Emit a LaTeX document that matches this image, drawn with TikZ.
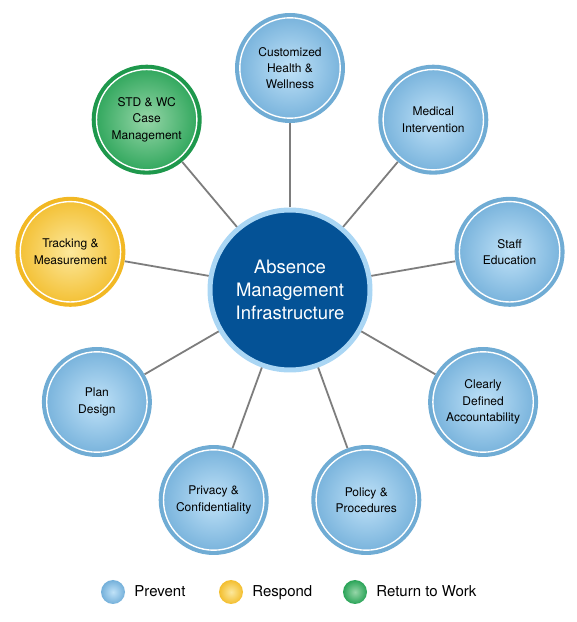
\documentclass[tikz,border=0pt]{standalone}
\usepackage{fontspec}
\setmainfont{TeX Gyre Heros}
\usetikzlibrary{positioning}

\definecolor{ringblue}{RGB}{112,172,212}
\definecolor{lightblue}{RGB}{192,226,248}
\definecolor{edgeblue}{RGB}{116,176,218}
\definecolor{ringgreen}{RGB}{30,152,76}
\definecolor{lightgreen}{RGB}{150,214,168}
\definecolor{edgegreen}{RGB}{42,164,88}
\definecolor{ringyellow}{RGB}{242,184,36}
\definecolor{lightyellow}{RGB}{252,232,156}
\definecolor{edgeyellow}{RGB}{243,190,46}
\definecolor{hubblue}{RGB}{4,82,150}
\definecolor{hubring}{RGB}{170,214,244}
\definecolor{spoke}{RGB}{125,125,125}

\tikzset{
  bubble/.style n args={3}{circle, minimum size=110pt, inner sep=0pt, fill=#1,
    align=center, font=\fontsize{12}{16.3}\selectfont,
    path picture={
      \shade[inner color=#2, outer color=#3] (path picture bounding box.center) circle (49.6pt);
      \draw[white, line width=1.4pt] (path picture bounding box.center) circle (50.2pt);
    }},
  prevent/.style={bubble={ringblue}{lightblue}{edgeblue}},
  respond/.style={bubble={ringyellow}{lightyellow}{edgeyellow}},
  backtowork/.style={bubble={ringgreen}{lightgreen}{edgegreen}},
  hub/.style={circle, minimum size=160pt, inner sep=0pt, fill=hubblue, draw=hubring,
    line width=5pt, text=white, align=center, font=\fontsize{18.5}{23}\selectfont},
  spokeline/.style={spoke, line width=1.8pt},
  legenddot/.style={circle, minimum size=24pt, inner sep=0pt},
  legendtext/.style={font=\fontsize{15}{18}\selectfont, inner sep=0pt,
    text height=11pt, text depth=3pt},
}

\begin{document}
\begin{tikzpicture}[x=1pt, y=1pt]

  \useasboundingbox (0,0) rectangle (577,622);

  \node[hub] at (290, 332) (infra) {Absence\\Management\\Infrastructure};

  \node[prevent] at (290, 554)      (health)   {Customized\\Health \&\\Wellness};
  \node[prevent] at (433.3, 502.3)  (medical)  {Medical\\Intervention};
  \node[prevent] at (509.6, 370.2)  (staff)    {Staff\\Education};
  \node[prevent] at (483.1, 220)    (account)  {Clearly\\Defined\\Accountability};
  \node[prevent] at (366.3, 122)    (policy)   {Policy \&\\Procedures};
  \node[prevent] at (213.7, 122)    (privacy)  {Privacy \&\\Confidentiality};
  \node[prevent] at (96.9, 220)     (plan)     {Plan\\Design};
  \node[respond] at (70.4, 370.2)   (tracking) {Tracking \&\\Measurement};
  \node[backtowork] at (146.7, 502.3) (casemgmt) {STD \& WC\\Case\\Management};

%spokes
  \draw[spokeline] (infra) -- (health);
  \draw[spokeline] (infra) -- (medical);
  \draw[spokeline] (infra) -- (staff);
  \draw[spokeline] (infra) -- (account);
  \draw[spokeline] (infra) -- (policy);
  \draw[spokeline] (infra) -- (privacy);
  \draw[spokeline] (infra) -- (plan);
  \draw[spokeline] (infra) -- (tracking);
  \draw[spokeline] (infra) -- (casemgmt);

%legend
  \node[legenddot, inner color=lightblue, outer color=edgeblue] at (113, 30) (dotprevent) {};
  \node[legendtext, right=9pt of dotprevent] (txtprevent) {Prevent};
  \node[legenddot, inner color=lightyellow, outer color=edgeyellow] at (231, 30) (dotrespond) {};
  \node[legendtext, right=9pt of dotrespond] (txtrespond) {Respond};
  \node[legenddot, inner color=lightgreen, outer color=edgegreen] at (355, 30) (dotreturn) {};
  \node[legendtext, right=9pt of dotreturn] (txtreturn) {Return to Work};

\end{tikzpicture}
\end{document}
